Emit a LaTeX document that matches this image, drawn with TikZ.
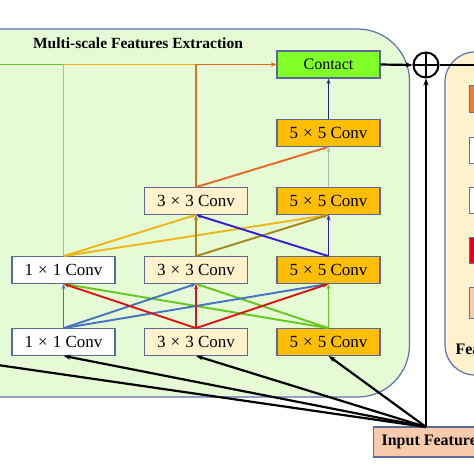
\documentclass[tikz,border=0pt]{standalone}
\usepackage{fontspec}
\setmainfont{Liberation Serif}
\usetikzlibrary{arrows.meta}
\definecolor{panelg}{RGB}{229,250,213}
\definecolor{panely}{RGB}{255,242,204}
\definecolor{panelb}{RGB}{92,112,176}
\definecolor{boxb}{RGB}{90,105,150}
\definecolor{lime}{RGB}{128,255,40}
\definecolor{conv5}{RGB}{255,190,0}
\definecolor{conv3}{RGB}{255,242,204}
\definecolor{pinkf}{RGB}{248,203,173}
\definecolor{lblue}{RGB}{68,114,196}
\definecolor{lred}{RGB}{215,20,20}
\definecolor{lgreen}{RGB}{100,200,30}
\definecolor{lgold}{RGB}{238,182,20}
\definecolor{lolive}{RGB}{165,135,25}
\definecolor{lpurple}{RGB}{50,30,210}
\definecolor{lorange}{RGB}{230,105,35}
\definecolor{lgray}{RGB}{175,185,175}
\definecolor{lnavy}{RGB}{20,40,130}
\definecolor{rorange}{RGB}{237,125,49}
\definecolor{rred}{RGB}{225,0,30}
\newcommand{\cv}[1]{#1\hspace{0.3em}×\hspace{0.3em}#1 Conv}
\tikzset{
  convbox/.style={draw=boxb, line width=1.2pt, minimum width=103pt, minimum height=26.5pt, inner sep=0pt, font=\fontsize{17}{19}\selectfont},
  cone/.style={convbox, fill=white},
  cthree/.style={convbox, fill=conv3},
  cfive/.style={convbox, fill=conv5},
  link/.style={line width=1.9pt, -{Stealth[length=5.5pt,width=4pt]}},
  blk/.style={line width=2.2pt, black, -{Stealth[length=7pt,width=5pt]}},
  sidebox/.style={draw=panelb, line width=1.2pt, minimum width=60pt, inner sep=0pt, anchor=north west}
}
\begin{document}
\begin{tikzpicture}[x=1pt,y=-1pt]
\useasboundingbox (0,0) rectangle (474,474);
\clip (0,0) rectangle (474,474);
\fill[white] (0,0) rectangle (474,474);
% panels
\draw[panelb, fill=panelg, line width=1.2pt, rounded corners=52pt] (-80,29) rectangle (409.5,397);
\draw[panelb, fill=panely, line width=1.2pt, rounded corners=30pt] (445,52) rectangle (560,375);
\node[font=\bfseries\fontsize{15.5}{18}\selectfont] (title) at (138,43) {Multi-scale Features Extraction};
% right panel boxes
\node[sidebox, fill=rorange, minimum height=27pt] (r1) at (469,85) {};
\node[sidebox, fill=white, minimum height=26pt] (r2) at (469,137) {};
\node[sidebox, fill=white, minimum height=26pt] (r3) at (469,187) {};
\node[sidebox, fill=rred, minimum height=26pt] (r4) at (469,237) {};
\node[sidebox, fill=pinkf, minimum height=31pt] (r5) at (469,287) {};
\node[font=\bfseries\fontsize{16}{18}\selectfont, anchor=west] (flab) at (452,349) {Features};
% conv nodes
\node[cone]   (a1) at (63.5,342) {\cv{1}};
\node[cthree] (a3) at (196,342) {\cv{3}};
\node[cfive]  (a5) at (328.5,342) {\cv{5}};
\node[cone]   (b1) at (63.5,270) {\cv{1}};
\node[cthree] (b3) at (196,270) {\cv{3}};
\node[cfive]  (b5) at (328.5,270) {\cv{5}};
\node[cthree] (c3) at (196,201) {\cv{3}};
\node[cfive]  (c5) at (328.5,201) {\cv{5}};
\node[cfive]  (d5) at (328.5,133) {\cv{5}};
\node[convbox, fill=lime, minimum height=27pt, font=\fontsize{16}{18}\selectfont] (con) at (328.5,64.5) {Contact};
\node[draw=black, line width=2pt, circle, minimum size=25pt, inner sep=0pt,
  path picture={\draw[line width=1.8pt] (path picture bounding box.north) -- (path picture bounding box.south)
   (path picture bounding box.west) -- (path picture bounding box.east);}] (plus) at (426,65) {};
\node[draw=boxb, fill=pinkf, line width=1.2pt, anchor=west, minimum height=30pt, inner xsep=8pt,
  font=\bfseries\fontsize{16}{18}\selectfont] (inp) at (373,442) {Input Features\hspace{60pt}};
\coordinate (src) at (426,427);
\coordinate (farleft) at (-30,361);
\coordinate (gl) at (-30,64.5);
\coordinate (rend) at (490,65);
% A -> B
\draw[link, lgreen] (a5.north) -- (b1.south);
\draw[link, lgreen] (a5.north) -- (b3.south);
\draw[link, lblue] (a1.north) -- (b3.south);
\draw[link, lblue] (a1.north) -- (b5.south);
\draw[link, lred] (a3.north) -- (b1.south);
\draw[link, lred] (a3.north) -- (b5.south);
\draw[link, lblue] (a1.north) -- (b1.south);
\draw[link, lred] (a3.north) -- (b3.south);
\draw[link, lgreen] (a5.north) -- (b5.south);
% B -> C
\draw[link, lgold] (b1.north) -- (c3.south);
\draw[link, lgold] (b1.north) -- (c5.south);
\draw[link, lolive] (b3.north) -- (c3.south);
\draw[link, lolive] (b3.north) -- (c5.south);
\draw[link, lpurple] (b5.north) -- (c3.south);
\draw[link, lpurple] (b5.north) -- (c5.south);
% C -> D
\draw[link, lgray] (c5.north) -- (d5.south);
\draw[link, lorange] (c3.north) -- (d5.south);
% to Contact
\draw[link, lgreen] (gl) -- (con.west);
\draw[link, lgold] (b1.north) |- (con.west);
\draw[link, lorange] (c3.north) |- (con.west);
\draw[link, lnavy] (d5.north) -- (con.south);
% black
\draw[blk] (con.east) -- (plus.west);
\draw[line width=2.2pt] (plus.east) -- (rend);
\draw[blk] (src) -- (plus.south);
\draw[blk] (src) -- (a5.south);
\draw[blk] (src) -- (a3.south);
\draw[blk] (src) -- (a1.south);
\draw[line width=2.2pt] (src) -- (farleft);
\end{tikzpicture}
\end{document}
